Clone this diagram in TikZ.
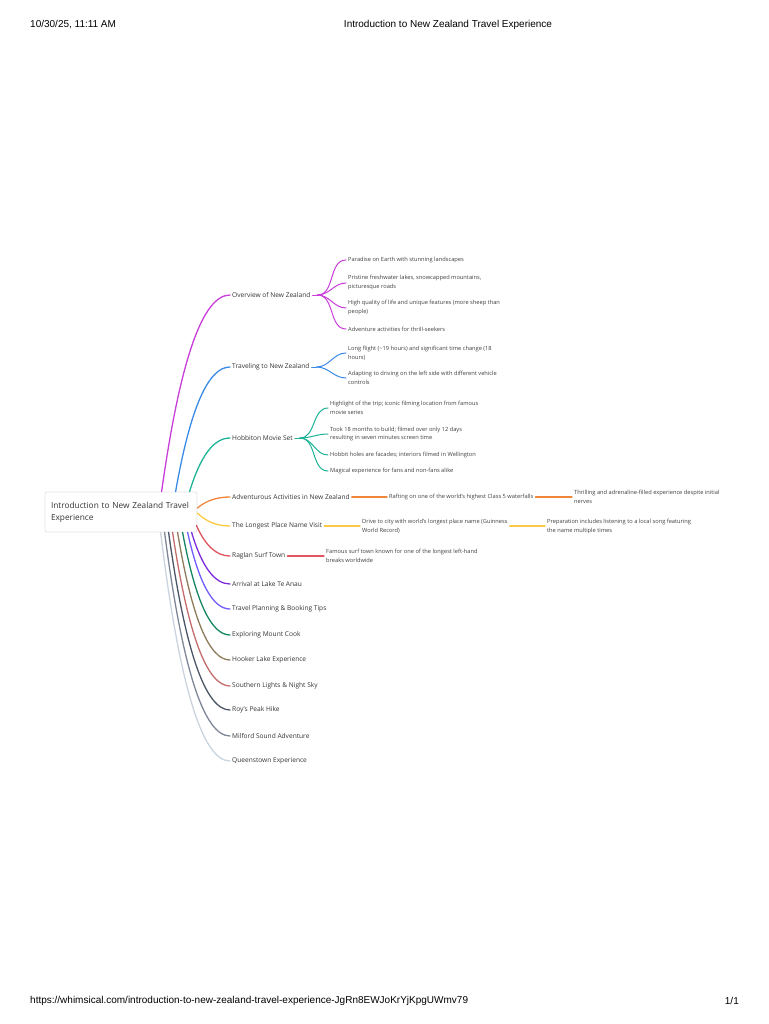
\documentclass[tikz,border=0pt]{standalone}
\usepackage{fontspec}
\setmainfont{Open Sans}
\newfontfamily\pagefont{Liberation Sans}
\usetikzlibrary{positioning,calc}
\definecolor{nzInk}{HTML}{333333}
\definecolor{nzIdeaInk}{HTML}{404040}
\definecolor{nzEdge}{HTML}{E4E4E4}
\definecolor{nzMagenta}{HTML}{C93DD9}
\definecolor{nzBlue}{HTML}{3A8BE6}
\definecolor{nzTeal}{HTML}{1DB396}
\definecolor{nzOrange}{HTML}{EF8638}
\definecolor{nzYellow}{HTML}{FBC944}
\definecolor{nzRed}{HTML}{E0545F}
\definecolor{nzPurple}{HTML}{7D2BDD}
\definecolor{nzViolet}{HTML}{6F5CFA}
\definecolor{nzGreen}{HTML}{178563}
\definecolor{nzBrown}{HTML}{8E7B5C}
\definecolor{nzRose}{HTML}{C46B6B}
\definecolor{nzSlate}{HTML}{4C5667}
\definecolor{nzGray}{HTML}{7E8797}
\definecolor{nzMist}{HTML}{C9D4DF}
\tikzset{
  every picture/.style={font=\fontsize{6.6}{8}\selectfont, text=nzInk},
  nz root/.style={draw=nzEdge, line width=0.8pt, rounded corners=2pt,
    fill=white, align=left, text width=140pt, minimum height=40pt,
    inner xsep=6pt, font=\fontsize{8.3}{12}\selectfont},
  nz topic/.style={anchor=west, inner xsep=2pt, inner ysep=1pt},
  nz idea/.style={anchor=west, align=left, inner xsep=2pt, inner ysep=1pt,
    font=\fontsize{5.7}{9}\selectfont, text=nzIdeaInk},
  nz branch/.style={line width=1.3pt, line cap=round},
  nz twig/.style={line width=1pt, line cap=round},
  nz curve/.style={to path={let \p1=(\tikztostart), \p2=(\tikztotarget) in
    .. controls ({\x1+0.27*(\x2-\x1)},{\y1+0.67*(\y2-\y1)})
    and ({\x2-0.4*(\x2-\x1)},\y2) .. (\tikztotarget)}},
  nz page/.style={font=\pagefont\fontsize{10}{12}\selectfont, text=black, inner sep=0pt}
}

\begin{document}
\begin{tikzpicture}[x=1pt,y=-1pt]
  \useasboundingbox (0,0) rectangle (768,1024);
  % page header and footer
  \node[nz page, anchor=west] (stamp) at (30,25) {10/30/25, 11:11 AM};
  \node[nz page] (pagetitle) at (448,25) {Introduction to New Zealand Travel Experience};
  \node[nz page, anchor=west] (url) at (30,1001) {https://whimsical.com/introduction-to-new-zealand-travel-experience-JgRn8EWJoKrYjKpgUWmv79};
  \node[nz page, anchor=east] (pageno) at (739,1001) {1/1};

  \node[nz root] (intro) at (121,512) {Introduction to New Zealand Travel\\Experience};

  % main topics
  \node[nz topic] (overview) at (230,295) {Overview of New Zealand};
  \node[nz topic] (travel) at (230,367) {Traveling to New Zealand};
  \node[nz topic] (hobbiton) at (230,438) {Hobbiton Movie Set};
  \node[nz topic] (adventure) at (230,497) {Adventurous Activities in New Zealand};
  \node[nz topic] (placename) at (230,526) {The Longest Place Name Visit};
  \node[nz topic] (raglan) at (230,556) {Raglan Surf Town};
  \node[nz topic] (teanau) at (230,584) {Arrival at Lake Te Anau};
  \node[nz topic] (planning) at (230,609) {Travel Planning \& Booking Tips};
  \node[nz topic] (mtcook) at (230,635) {Exploring Mount Cook};
  \node[nz topic] (hooker) at (230,660) {Hooker Lake Experience};
  \node[nz topic] (southern) at (230,686) {Southern Lights \& Night Sky};
  \node[nz topic] (roys) at (230,710) {Roy's Peak Hike};
  \node[nz topic] (milford) at (230,736) {Milford Sound Adventure};
  \node[nz topic] (queenstown) at (230,761) {Queenstown Experience};

  % ideas
  \node[nz idea] (overview1) at (346,260) {Paradise on Earth with stunning landscapes};
  \node[nz idea] (overview2) at (346,283) {Pristine freshwater lakes, snowcapped mountains,\\picturesque roads};
  \node[nz idea] (overview3) at (346,308) {High quality of life and unique features (more sheep than\\people)};
  \node[nz idea] (overview4) at (346,329) {Adventure activities for thrill-seekers};
  \node[nz idea] (travel1) at (346,353) {Long flight (\textasciitilde19 hours) and significant time change (18\\hours)};
  \node[nz idea] (travel2) at (346,378) {Adapting to driving on the left side with different vehicle\\controls};
  \node[nz idea] (hobbiton1) at (328,408) {Highlight of the trip; iconic filming location from famous\\movie series};
  \node[nz idea] (hobbiton2) at (328,434) {Took 18 months to build; filmed over only 12 days\\resulting in seven minutes screen time};
  \node[nz idea] (hobbiton3) at (328,455) {Hobbit holes are facades; interiors filmed in Wellington};
  \node[nz idea] (hobbiton4) at (328,471) {Magical experience for fans and non-fans alike};
  \node[nz idea] (rafting) at (387,497) {Rafting on one of the world's highest Class 5 waterfalls};
  \node[nz idea] (thrilling) at (572,497) {Thrilling and adrenaline-filled experience despite initial\\nerves};
  \node[nz idea] (drive) at (360,526) {Drive to city with world's longest place name (Guinness\\World Record)};
  \node[nz idea] (prepare) at (545,526) {Preparation includes listening to a local song featuring\\the name multiple times};
  \node[nz idea] (surf) at (324,556) {Famous surf town known for one of the longest left-hand\\breaks worldwide};

  % hubs
  \coordinate[right=5pt of overview] (overviewhub);
  \coordinate[right=5pt of travel] (travelhub);
  \coordinate[right=5pt of hobbiton] (hobbitonhub);

  % branches from the root
  \draw[nz branch, nzMagenta, nz curve] ($(intro.north west)+(117,0)$) to (overview.west);
  \draw[nz branch, nzBlue, nz curve] ($(intro.north west)+(131,0)$) to (travel.west);
  \draw[nz branch, nzTeal, nz curve] ($(intro.north west)+(145,0)$) to (hobbiton.west);
  \draw[nz branch, nzOrange, nz curve] ($(intro.east)+(0,-4)$) to (adventure.west);
  \draw[nz branch, nzYellow, nz curve] ($(intro.east)+(0,1)$) to (placename.west);
  \draw[nz branch, nzRed, nz curve] ($(intro.south east)+(-1,-7)$) to (raglan.west);
  \draw[nz branch, nzPurple, nz curve] ($(intro.south west)+(147,0)$) to (teanau.west);
  \draw[nz branch, nzViolet, nz curve] ($(intro.south west)+(143,0)$) to (planning.west);
  \draw[nz branch, nzGreen, nz curve] ($(intro.south west)+(138,0)$) to (mtcook.west);
  \draw[nz branch, nzBrown, nz curve] ($(intro.south west)+(133,0)$) to (hooker.west);
  \draw[nz branch, nzRose, nz curve] ($(intro.south west)+(128,0)$) to (southern.west);
  \draw[nz branch, nzSlate, nz curve] ($(intro.south west)+(124,0)$) to (roys.west);
  \draw[nz branch, nzGray, nz curve] ($(intro.south west)+(120,0)$) to (milford.west);
  \draw[nz branch, nzMist, nz curve] ($(intro.south west)+(116,0)$) to (queenstown.west);

  % fans
  \draw[nz twig, nzMagenta] (overview.east) -- (overviewhub);
  \draw[nz twig, nzMagenta] (overviewhub) to[out=0,in=180] (overview1.west);
  \draw[nz twig, nzMagenta] (overviewhub) to[out=0,in=180] (overview2.west);
  \draw[nz twig, nzMagenta] (overviewhub) to[out=0,in=180] (overview3.west);
  \draw[nz twig, nzMagenta] (overviewhub) to[out=0,in=180] (overview4.west);
  \draw[nz twig, nzBlue] (travel.east) -- (travelhub);
  \draw[nz twig, nzBlue] (travelhub) to[out=0,in=180] (travel1.west);
  \draw[nz twig, nzBlue] (travelhub) to[out=0,in=180] (travel2.west);
  \draw[nz twig, nzTeal] (hobbiton.east) -- (hobbitonhub);
  \draw[nz twig, nzTeal] (hobbitonhub) to[out=0,in=180] (hobbiton1.west);
  \draw[nz twig, nzTeal] (hobbitonhub) to[out=0,in=180] (hobbiton2.west);
  \draw[nz twig, nzTeal] (hobbitonhub) to[out=0,in=180] (hobbiton3.west);
  \draw[nz twig, nzTeal] (hobbitonhub) to[out=0,in=180] (hobbiton4.west);

  % chains
  \draw[nz branch, nzOrange] (adventure.east) -- (rafting.west);
  \draw[nz branch, nzOrange] (rafting.east) -- (thrilling.west);
  \draw[nz branch, nzYellow] (placename.east) -- (drive.west);
  \draw[nz branch, nzYellow] (drive.east) -- (prepare.west);
  \draw[nz branch, nzRed] (raglan.east) -- (surf.west);
\end{tikzpicture}
\end{document}
